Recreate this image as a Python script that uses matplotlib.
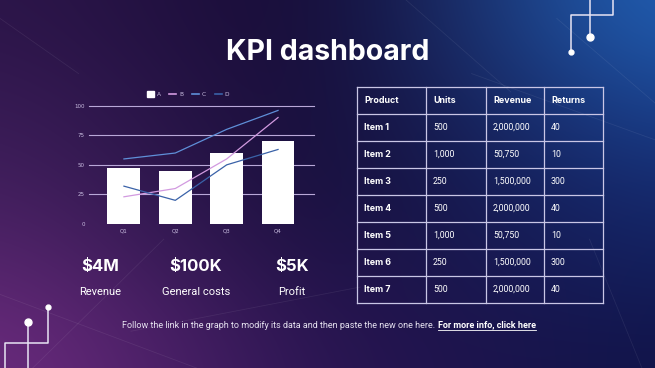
import numpy as np
import matplotlib
matplotlib.use("Agg")
import matplotlib.pyplot as plt
from matplotlib.colors import to_rgb
from matplotlib.lines import Line2D

# ---- data ----
quarters = ["Q1", "Q2", "Q3", "Q4"]
series_a = [47, 45, 60, 70]
series_b = [23, 30, 55, 90]
series_c = [55, 60, 80, 96]
series_d = [32, 20, 50, 63]
y_ticks = [0, 25, 50, 75, 100]

kpi_values = ["$4M", "$100K", "$5K"]
kpi_labels = ["Revenue", "General costs", "Profit"]

table_header = ["Product", "Units", "Revenue", "Returns"]
table_rows = [
    ["Item 1", "500", "2,000,000", "40"],
    ["Item 2", "1,000", "50,750", "10"],
    ["Item 3", "250", "1,500,000", "300"],
    ["Item 4", "500", "2,000,000", "40"],
    ["Item 5", "1,000", "50,750", "10"],
    ["Item 6", "250", "1,500,000", "300"],
    ["Item 7", "500", "2,000,000", "40"],
]

W, H = 655, 368
fig = plt.figure(figsize=(W / 100, H / 100), dpi=100)

def fx(px):
    return px / W

def fy(py):
    return 1 - py / H

# ---- background gradient (3x3 colour grid, interpolated then blurred) ----
bg = fig.add_axes([0, 0, 1, 1])
grid = [["#2c1549", "#150c36", "#2266bd"],
        ["#44205f", "#160e3a", "#152c72"],
        ["#722d82", "#2a1552", "#0f1246"]]
cg = np.array([[to_rgb(c) for c in row] for row in grid])
gx = np.linspace(0, 2, 330)
gy = np.linspace(0, 2, 184)
img = np.zeros((len(gy), len(gx), 3))
for ch in range(3):
    rows = np.array([np.interp(gx, [0, 1, 2], cg[r, :, ch]) for r in range(3)])
    for i in range(len(gx)):
        img[:, i, ch] = np.interp(gy, [0, 1, 2], rows[:, i])

def blur(a, k, axis):
    pad = [(0, 0)] * 3
    pad[axis] = (k, k)
    p = np.pad(a, pad, mode="edge")
    c = np.cumsum(p, axis=axis)
    c = np.insert(c, 0, 0, axis=axis)
    n = a.shape[axis]
    lo = np.take(c, np.arange(0, n), axis=axis)
    hi = np.take(c, np.arange(2 * k + 1, n + 2 * k + 1), axis=axis)
    return (hi - lo) / (2 * k + 1)

for _ in range(2):
    img = blur(blur(img, 40, 1), 25, 0)
bg.imshow(np.clip(img, 0, 1), extent=[0, 1, 0, 1], aspect="auto", interpolation="bilinear")
bg.set_xlim(0, 1)
bg.set_ylim(0, 1)
bg.axis("off")

# faint network lines
net = [((0.62, 1.0), (0.78, 0.75)), ((0.72, 0.8), (1.0, 0.62)), ((0.85, 0.95), (1.0, 0.72)),
       ((0.0, 0.2), (0.3, 0.0)), ((0.05, 0.0), (0.25, 0.35)), ((0.0, 0.95), (0.12, 0.8)),
       ((0.2, 0.1), (0.55, 0.22)), ((0.9, 0.35), (0.98, 0.0))]
for (x0, y0), (x1, y1) in net:
    bg.plot([x0, x1], [y0, y1], color="white", lw=0.6, alpha=0.07)

# circuit decorations
circ = "#e8e4f4"
bg.plot([fx(613), fx(613), fx(571), fx(571)], [fy(0), fy(15), fy(15), fy(52)], color=circ, lw=1.1)
bg.plot([fx(590), fx(590)], [fy(0), fy(37)], color=circ, lw=1.1)
bg.plot([fx(590)], [fy(37)], "o", color="white", ms=5)
bg.plot([fx(571)], [fy(52)], "o", color="white", ms=3.5)
bg.plot([fx(48), fx(48), fx(5), fx(5)], [fy(307), fy(343), fy(343), fy(368)], color=circ, lw=1.1)
bg.plot([fx(28), fx(28)], [fy(322), fy(368)], color=circ, lw=1.1)
bg.plot([fx(28)], [fy(322)], "o", color="white", ms=5)
bg.plot([fx(48)], [fy(307)], "o", color="white", ms=3.5)

# ---- title ----
fig.text(0.5, fy(53), "KPI dashboard", ha="center", va="center", color="white",
         fontsize=20.5, fontweight="bold", family="Inter")

# ---- chart ----
ax = fig.add_axes([fx(89), fy(224), fx(225), (224 - 105.7) / H])
ax.set_facecolor("none")
x = np.arange(len(quarters))
ax.bar(x, series_a, width=0.64, color="white", label="A", zorder=2)
ax.plot(x, series_b, color="#d29ae0", lw=0.9, label="B", zorder=3)
ax.plot(x, series_c, color="#5f8fd8", lw=0.9, label="C", zorder=3)
ax.plot(x, series_d, color="#3a62a8", lw=0.9, label="D", zorder=3)
ax.set_xlim(-0.68, 3.7)
ax.set_ylim(0, 100)
for t in y_ticks[1:]:
    ax.axhline(t, color="#b9a8d8", lw=0.8, zorder=1, clip_on=False)
ax.axhline(0, color="#b9a8d8", lw=0.5, alpha=0.3, zorder=1)
ax.set_yticks(y_ticks)
ax.set_xticks(x, quarters)
ax.tick_params(length=0, labelsize=4, colors="#c9bde0", pad=3)
for s in ax.spines.values():
    s.set_visible(False)
handles = [plt.Rectangle((0, 0), 1, 1, color="white"),
           Line2D([], [], color="#d29ae0", lw=1.2),
           Line2D([], [], color="#5f8fd8", lw=1.2),
           Line2D([], [], color="#3a62a8", lw=1.2)]
ax.legend(handles, ["A", "B", "C", "D"], loc="lower center", bbox_to_anchor=(0.44, 1.03),
          ncol=4, frameon=False, fontsize=4.2, labelcolor="#c9bde0",
          handlelength=1.2, handleheight=1.0, handletextpad=0.5, columnspacing=1.5)

# ---- KPIs ----
kpi_x = [100, 196, 292]
for xx, v, l in zip(kpi_x, kpi_values, kpi_labels):
    fig.text(fx(xx), fy(267), v, ha="center", va="center", color="white",
             fontsize=12, fontweight="bold", family="Inter")
    fig.text(fx(xx), fy(292), l, ha="center", va="center", color="white",
             fontsize=8, family="Roboto")

# ---- table ----
col_edges = [357, 426, 486, 544, 603]
top, bottom = 87, 303
tax = fig.add_axes([fx(357), fy(bottom), fx(603 - 357), (bottom - top) / H])
tax.set_xlim(357, 603)
nrows = len(table_rows) + 1
tax.set_ylim(nrows, 0)
tax.axis("off")
line_c = "#c9c6e6"
for ce in col_edges:
    tax.plot([ce, ce], [0, nrows], color=line_c, lw=0.9, clip_on=False)
for r in range(nrows + 1):
    tax.plot([col_edges[0], col_edges[-1]], [r, r], color=line_c, lw=0.9, clip_on=False)
all_rows = [table_header] + table_rows
for r, row in enumerate(all_rows):
    for c, val in enumerate(row):
        bold = r == 0 or c == 0
        tax.text(col_edges[c] + 7, r + 0.5, val, ha="left", va="center", color="white",
                 fontsize=6.4 if bold else 6.3, fontweight="bold" if bold else "normal",
                 family="Inter" if bold else "Roboto")

# ---- footer ----
foot_y = fy(325)
fig.text(fx(435), foot_y, "Follow the link in the graph to modify its data and then paste the new one here.",
         ha="right", va="center", color="#e6e2f0", fontsize=6.5, family="Roboto")
t2 = fig.text(fx(438), foot_y, "For more info, click here", ha="left", va="center",
              color="white", fontsize=6.5, fontweight="bold", family="Roboto")
fig.canvas.draw()
bb = t2.get_window_extent()
uy = (bb.y0 - 0.5) / H
bg.plot([bb.x0 / W, bb.x1 / W], [uy, uy], color="white", lw=0.6)

fig.savefig("out.png", dpi=100)
